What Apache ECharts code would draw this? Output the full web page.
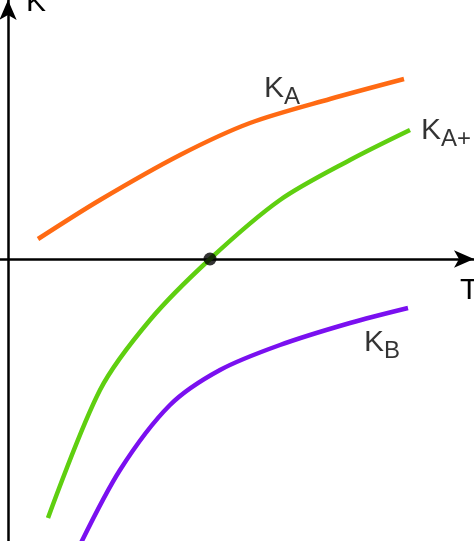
<!DOCTYPE html>
<html><head><meta charset="utf-8">
<script src="https://cdn.jsdelivr.net/npm/echarts@6/dist/echarts.min.js"></script>
<style>html,body{margin:0;padding:0;background:#fff}#c{width:474px;height:541px}</style>
</head><body><div id="c"></div>
<script>
// values: T to the right of the K axis, K above the T axis
var kA = [[30, 20], [92, 59], [172, 104], [242, 136], [322, 160], [396, 180]];
var kSum = [[40, -259], [92, -131], [142, -61], [202, 0], [272, 59], [342, 99], [402, 129]];
var kB = [[70, -290], [112, -211], [162, -146], [212, -111], [272, -86], [342, -64], [400, -49]];
var crossing = [[202, 0]];
var labels = [
    { pos: [274, 170], main: 'K', sub: 'A' },
    { pos: [438, 128], main: 'K', sub: 'A+' },
    { pos: [374, -84], main: 'K', sub: 'B' }
];

var myChart = echarts.init(document.getElementById('c'));
var font = 'Liberation Sans, Arial, sans-serif';
var axisStyle = { show: true, onZero: true, symbol: ['none', 'arrow'], symbolSize: [13, 20], lineStyle: { color: '#000', width: 2.5 } };

function line(data, color) {
    return { type: 'line', data: data, smooth: 0.3, symbol: 'none', lineStyle: { color: color, width: 4.5 } };
}

var option = {
    animation: false,
    grid: { left: 0, right: 0, top: 0, bottom: 0 },
    xAxis: { type: 'value', min: -8, max: 466, axisLine: axisStyle, axisTick: { show: false }, axisLabel: { show: false }, splitLine: { show: false } },
    yAxis: { type: 'value', min: -282, max: 259, axisLine: axisStyle, axisTick: { show: false }, axisLabel: { show: false }, splitLine: { show: false } },
    series: [
        line(kA, '#ff6a13'),
        line(kSum, '#5fcf10'),
        line(kB, '#7a10f0'),
        { type: 'scatter', data: crossing, symbolSize: 13, itemStyle: { color: '#000' }, z: 5 },
        {
            type: 'scatter', symbolSize: 0,
            data: labels.map(function (l) { return { value: l.pos, main: l.main, sub: l.sub }; }),
            label: {
                show: true, position: 'inside', color: '#000',
                formatter: function (p) { return '{m|' + p.data.main + '}{s|' + p.data.sub + '}'; },
                rich: {
                    m: { fontSize: 30, fontFamily: font, color: '#000' },
                    s: { fontSize: 24, fontFamily: font, color: '#000', padding: [16, 0, 0, 0] }
                }
            }
        }
    ],
    graphic: [
        { type: 'text', left: 460, top: 276, style: { text: 'T', fontSize: 30, fontFamily: font, fill: '#000' } },
        { type: 'text', left: 26, top: -12, style: { text: 'K', fontSize: 30, fontFamily: font, fill: '#000' } }
    ]
};
option && myChart.setOption(option);
</script></body></html>
